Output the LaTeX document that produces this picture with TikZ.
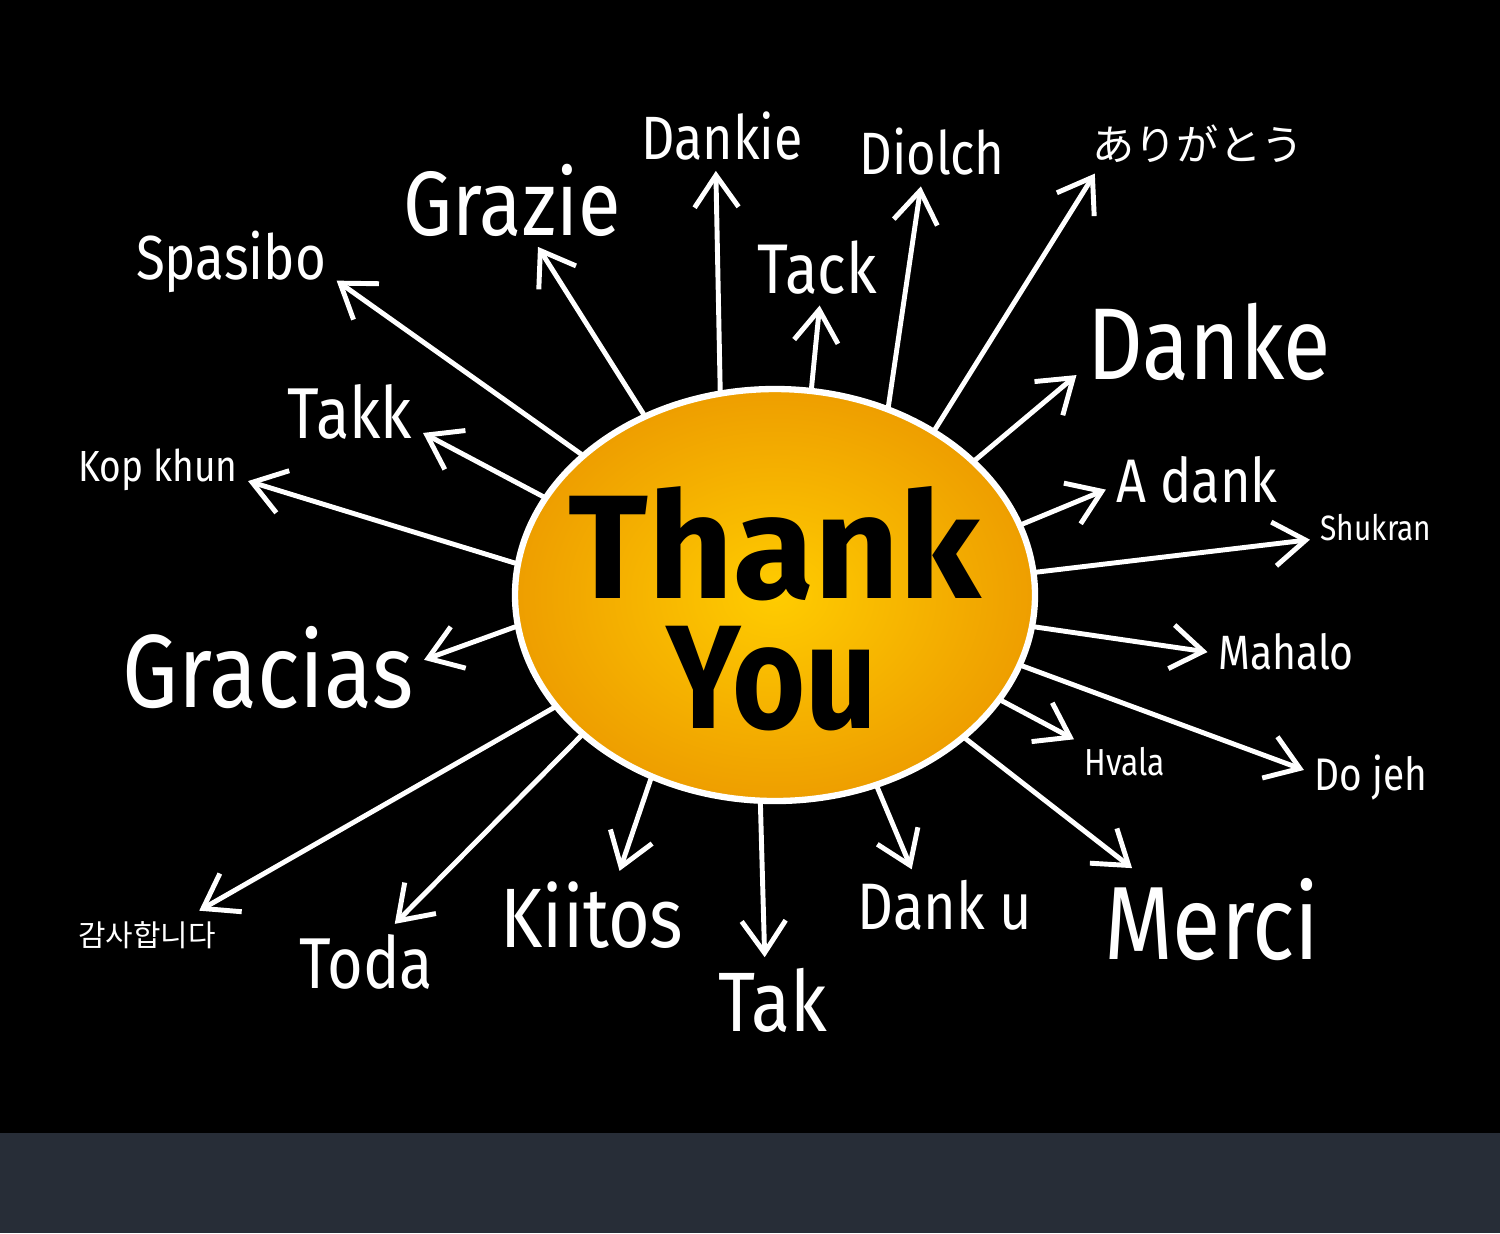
\documentclass[tikz,border=0pt]{standalone}
\usepackage{fontspec}
\usepackage{xcolor}
\usepackage{tikz}
\usetikzlibrary{arrows.meta,shapes.geometric}
\newfontfamily\hand{Fira Sans}[FakeStretch=0.85]
\newfontfamily\bighand{Fira Sans}
\newfontfamily\jpfont{Noto Sans CJK JP}
\newfontfamily\krfont{Noto Sans CJK KR}
\newcommand{\lsize}[1]{\fontsize{#1}{#1}\selectfont}
\definecolor{yolk}{RGB}{255,204,0}
\definecolor{rind}{RGB}{238,158,0}
\definecolor{strip}{RGB}{39,45,55}

\begin{document}
\begin{tikzpicture}[x=0.1mm, y=-0.1mm,
  word/.style={text=white, inner sep=1mm},
  arr/.style={white, line width=1.4pt, line cap=round,
    -{Straight Barb[length=3.2mm,width=4.4mm,line width=1.4pt]}}]
\useasboundingbox (0,0) rectangle (1500,1233);
\fill[black] (0,0) rectangle (1500,1233);
\fill[strip] (0,1133) rectangle (1500,1233);
% the centre
\node[ellipse, draw=white, line width=1.8pt, inner color=yolk, outer color=rind,
  minimum width=52mm, minimum height=41.2mm, inner sep=0] (thx) at (775,595) {};
\node[anchor=base, inner sep=0, font=\bighand\bfseries\lsize{42}] (thank) at (775,598) {Thank};
\node[anchor=base, inner sep=0, font=\hand\bfseries\lsize{42}] (you) at (772,728) {You};
% the words
\node[word, font=\hand\lsize{17.7}] (spasibo) at (231,262) {Spasibo};
\node[word, font=\hand\lsize{26}] (grazie) at (512,200) {Grazie};
\node[word, font=\hand\lsize{17.4}] (dankie) at (722,136) {Dankie};
\node[word, font=\hand\lsize{17}] (diolch) at (932,152) {Diolch};
\node[word, font=\jpfont\lsize{12}] (arigato) at (1198,144) {ありがとう};
\node[word, font=\hand\lsize{20}] (tack) at (817,268) {Tack};
\node[word, font=\hand\lsize{29}] (danke) at (1209,342) {Danke};
\node[word, font=\hand\lsize{20.5}] (takk) at (350,412) {Takk};
\node[word, font=\hand\lsize{17.5}] (adank) at (1197,480) {A dank};
\node[word, font=\hand\lsize{12.4}] (kopkhun) at (158,470) {Kop khun};
\node[word, font=\hand\lsize{10}] (shukran) at (1376,528) {Shukran};
\node[word, font=\hand\lsize{29.6}] (gracias) at (268,668) {Gracias};
\node[word, font=\hand\lsize{13.7}] (mahalo) at (1286,652) {Mahalo};
\node[word, font=\hand\lsize{10.7}] (hvala) at (1125,762) {Hvala};
\node[word, font=\hand\lsize{13}] (dojeh) at (1371,777) {Do jeh};
\node[word, font=\krfont\lsize{8.5}] (gamsa) at (147,935) {감사합니다};
\node[word, font=\hand\lsize{20.5}] (toda) at (366,962) {Toda};
\node[word, font=\hand\lsize{24}] (kiitos) at (592,915) {Kiitos};
\node[word, font=\hand\lsize{24}] (tak) at (773,1000) {Tak};
\node[word, font=\hand\lsize{18.7}] (danku) at (945,905) {Dank u};
\node[word, font=\hand\lsize{29.6}] (merci) at (1212,920) {Merci};
% the arrows
\draw[arr] (thx.144.7) -- (spasibo.-10);
\draw[arr] (thx.126.5) -- (grazie.-61);
\draw[arr] (thx.105.7) -- (dankie.-100);
\draw[arr] (thx.80) -- (tack.-86);
\draw[arr] (thx.59) -- (diolch.-108);
\draw[arr] (thx.46.7) -- (arigato.196.7);
\draw[arr] (thx.34.9) -- (danke.194.8);
\draw[arr] (thx.16.5) -- (adank.186);
\draw[arr] (thx.5) -- (shukran.190);
\draw[arr] (thx.-7.4) -- (mahalo.180);
\draw[arr] (thx.-16.1) -- (dojeh.174);
\draw[arr] (thx.-25) -- (hvala.156);
\draw[arr] (thx.-37) -- (merci.147.5);
\draw[arr] (thx.-62.7) -- (danku.133);
\draw[arr] (thx.-94) -- (tak.101);
\draw[arr] (thx.236.3) -- (kiitos.58);
\draw[arr] (thx.216) -- (toda.53.6);
\draw[arr] (thx.207.9) -- (gamsa.25);
\draw[arr] (thx.187.7) -- (gracias.3);
\draw[arr] (thx.173.4) -- (kopkhun.-7.6);
\draw[arr] (thx.157.6) -- (takk.-16.4);
\end{tikzpicture}
\end{document}
